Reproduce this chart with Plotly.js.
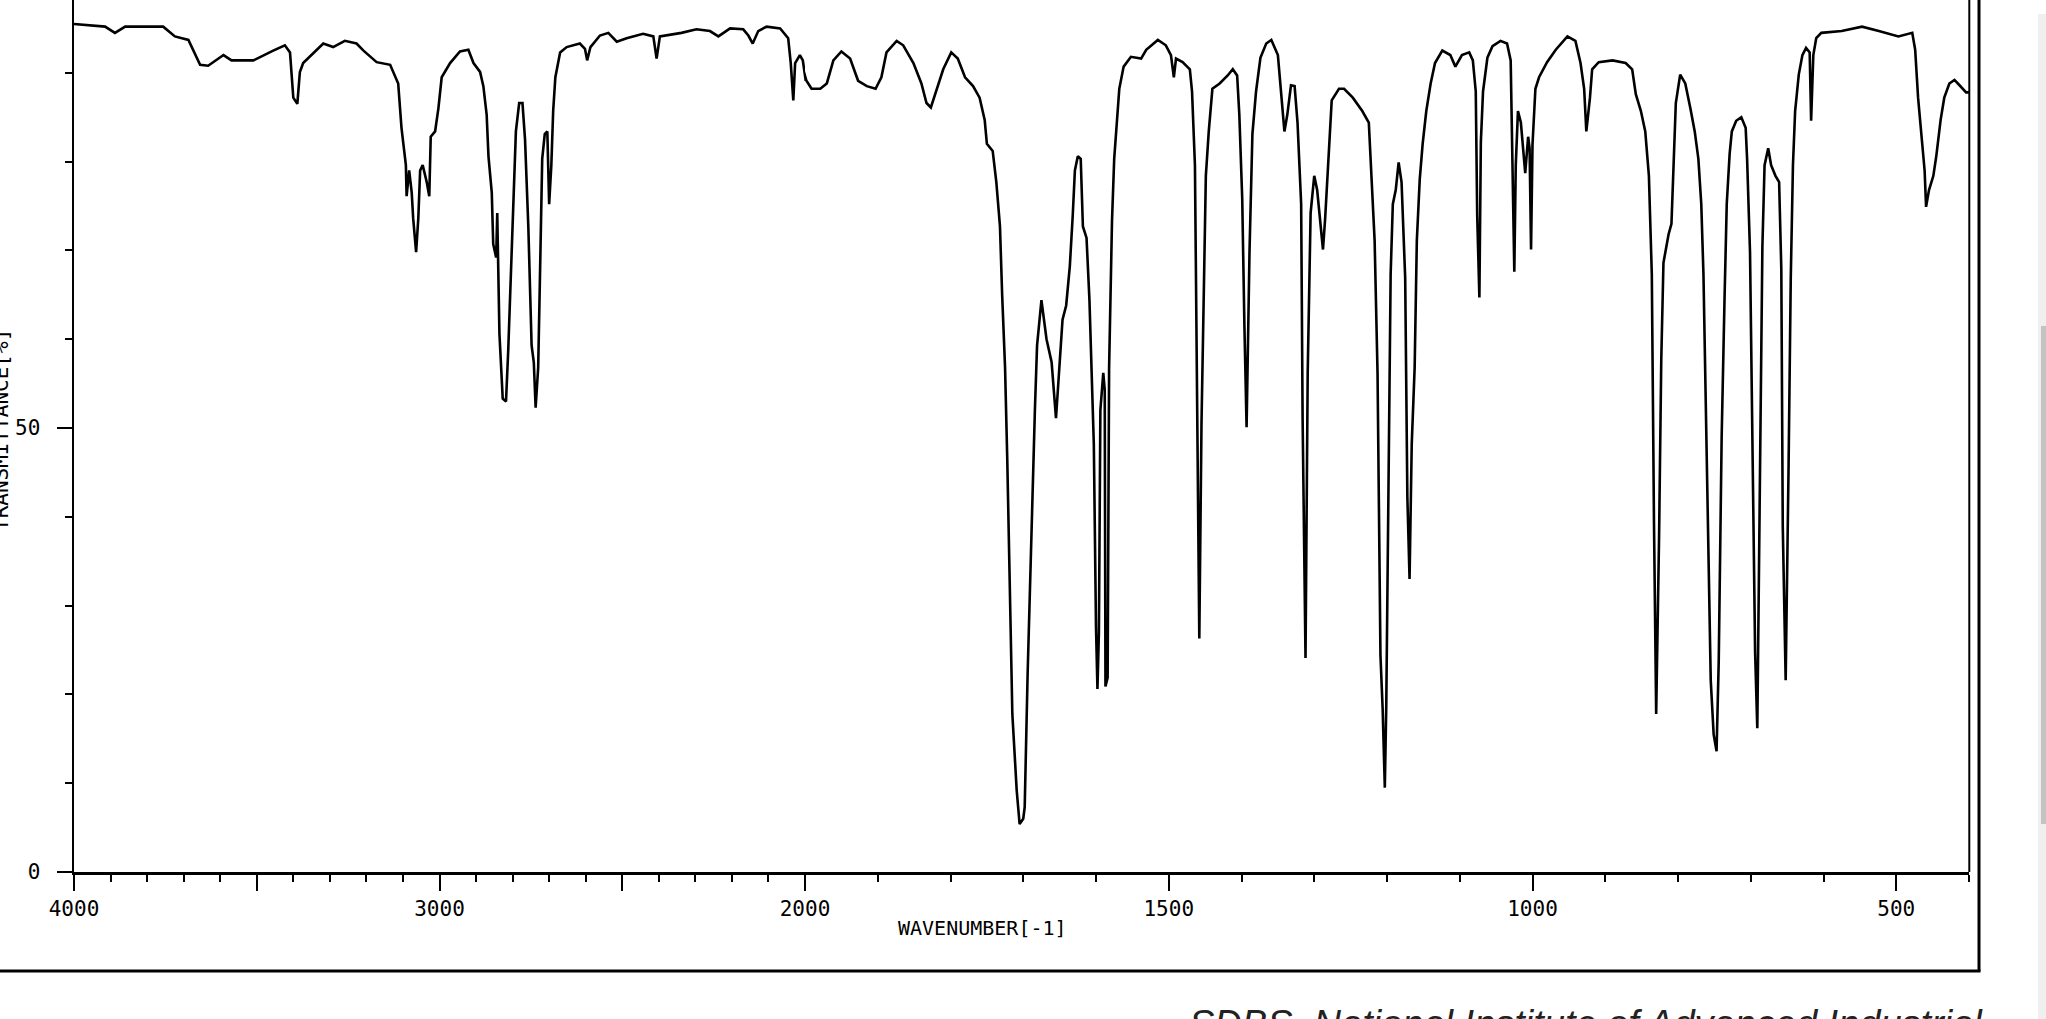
<!DOCTYPE html>
<html>
<head>
<meta charset="utf-8">
<script src="https://cdn.plot.ly/plotly-3.0.1.min.js"></script>
<style>
html,body{margin:0;padding:0;background:#ffffff;overflow:hidden;}
#chart{width:2046px;height:1019px;}
</style>
</head>
<body>
<div id="chart"></div>
<script>
// ---- data ----
const wavenumber = [
4000,3915,3888,3860,3756,3724,3687,3655,3633,3591,3569,3509,3455,3423,3409,3400,3389,3382,3373,3336,
3318,3291,3259,3227,3208,3172,3135,3113,3104,3092,3090,3083,3076,3072,3064,3058,3053,3046,3035,3028,
3024,3012,3003,2994,2971,2944,2921,2907,2889,2880,2871,2866,2857,2853,2845,2842,2836,2827,2818,2812,
2806,2798,2791,2782,2773,2766,2757,2748,2742,2737,2730,2724,2719,2712,2705,2700,2694,2689,2683,2670,
2652,2616,2602,2596,2587,2561,2538,2515,2488,2443,2415,2406,2397,2338,2297,2260,2237,2205,2169,2155,
2143,2128,2105,2068,2046,2039,2032,2027,2014,2006,1998,1991,1979,1970,1961,1950,1938,1927,1915,1903,
1895,1888,1874,1865,1851,1840,1833,1827,1822,1810,1799,1790,1780,1769,1760,1753,1750,1742,1737,1732,
1729,1725,1722,1719,1715,1709,1705,1700,1698,1694,1689,1684,1681,1675,1668,1661,1655,1651,1646,1641,
1636,1632,1629,1625,1621,1618,1613,1609,1606,1603,1600,1598,1596,1594,1590,1588,1587,1584,1582,1578,
1575,1571,1568,1562,1552,1538,1531,1515,1504,1497,1493,1490,1481,1471,1468,1464,1461,1458,1455,1452,
1449,1445,1440,1430,1419,1412,1406,1403,1399,1396,1393,1389,1385,1380,1374,1366,1359,1350,1346,1341,
1337,1332,1327,1323,1318,1316,1312,1309,1305,1300,1296,1291,1288,1285,1281,1276,1266,1259,1247,1234,
1225,1222,1217,1213,1209,1206,1203,1201,1198,1195,1192,1188,1184,1180,1175,1172,1169,1166,1162,1159,
1155,1151,1146,1140,1134,1124,1113,1106,1097,1087,1082,1078,1076,1073,1071,1068,1062,1055,1044,1035,
1030,1028,1025,1023,1020,1016,1012,1010,1006,1004,1002,1000,996,991,980,968,952,941,934,929,
926,921,918,909,890,872,863,858,851,845,840,836,833,830,826,823,820,813,809,806,
803,797,790,783,777,772,768,765,762,758,755,751,747,744,740,736,733,729,726,720,
713,707,705,701,698,694,691,688,684,681,676,672,666,661,658,656,652,648,645,642,
639,634,629,624,619,617,614,610,603,575,547,524,497,478,474,470,465,461,459,455,
449,445,439,434,427,420,413,404,400
];
const transmittance = [
95.5,95.2,94.5,95.2,95.2,94.1,93.7,90.9,90.8,92.0,91.4,91.4,92.5,93.1,92.3,87.2,86.5,90.1,91.1,92.6,
93.3,92.9,93.6,93.3,92.5,91.2,90.9,88.8,83.8,79.6,76.1,79.0,76.5,73.6,69.8,73.6,79.0,79.6,77.7,76.1,
82.8,83.4,86.0,89.5,91.1,92.4,92.6,91.1,90.1,88.5,85.3,80.6,76.5,70.7,69.2,74.2,60.6,53.3,53.0,58.7,
65.7,76.5,83.4,86.6,86.6,82.5,72.7,59.3,57.4,52.3,56.8,69.5,80.3,83.1,83.4,75.2,79.6,85.7,89.5,92.3,
92.9,93.3,92.7,91.4,92.9,94.2,94.5,93.5,93.9,94.4,94.1,91.6,94.1,94.5,94.9,94.7,94.1,95.0,94.9,94.2,
93.3,94.7,95.2,95.0,93.9,91.1,86.9,91.1,92.0,91.4,89.1,88.2,88.2,88.8,91.4,92.4,91.6,89.1,88.5,88.2,
89.5,92.3,93.6,93.1,91.1,88.8,86.6,86.1,87.3,90.4,92.3,91.6,89.5,88.5,87.2,84.7,82.0,81.2,77.7,72.7,
65.0,56.8,46.6,32.7,17.8,9.2,5.4,6.0,7.3,22.3,38.7,52.0,59.3,64.4,60.0,57.4,51.1,56.5,62.2,63.8,
68.2,73.9,79.0,80.6,80.3,72.7,71.4,64.4,56.2,48.2,27.6,20.6,27.0,52.0,56.2,54.3,20.9,21.9,56.8,73.3,
80.3,84.4,88.2,90.7,91.8,91.6,92.6,93.7,93.1,92.0,89.5,91.6,91.2,90.4,87.9,79.6,50.4,26.3,50.4,63.8,
78.4,83.4,88.2,88.8,89.7,90.4,89.7,85.3,75.8,61.5,50.1,69.8,83.1,87.9,91.7,93.3,93.7,92.0,88.5,83.4,
85.3,88.6,88.5,84.4,75.2,51.1,24.1,56.2,74.2,78.4,76.8,73.0,70.1,73.6,79.6,86.9,88.2,88.2,87.2,85.7,
84.4,79.6,71.1,56.2,24.4,18.4,9.5,18.7,44.7,67.3,75.2,76.8,79.9,77.7,66.9,42.2,33.0,48.2,56.8,71.1,
78.0,82.0,85.7,88.8,91.1,92.5,92.0,90.7,92.0,92.3,91.4,87.9,73.9,64.7,82.2,87.9,91.7,93.0,93.6,93.3,
91.4,79.9,67.6,79.6,85.7,84.4,79.9,78.7,82.8,81.5,70.1,81.9,88.2,89.5,91.2,92.6,94.1,93.6,91.1,88.2,
83.4,87.2,90.4,91.2,91.4,91.1,90.4,87.6,85.7,83.4,78.4,67.3,39.3,17.8,37.8,57.7,68.6,71.8,73.0,80.3,
86.6,89.8,88.8,86.0,83.4,80.3,75.2,67.3,53.9,35.5,21.6,15.5,13.6,23.8,48.9,64.7,75.2,80.9,83.4,84.6,
85.0,83.8,80.3,69.8,50.8,24.7,16.2,42.8,70.4,79.6,81.5,79.6,78.4,77.7,67.9,39.0,21.6,45.7,66.9,79.6,
85.7,89.8,92.0,92.8,92.3,84.6,92.0,93.9,94.5,94.7,95.2,94.7,94.1,94.5,92.6,87.2,82.8,79.0,74.9,76.8,
78.4,80.6,84.7,87.2,88.8,89.2,88.6,87.8,87.8
];
const highTickVals = [4000,3500,3000,2500,2000];
const highTickText = ['4000','','3000','','2000'];
const lowTickVals = [1500,1000,500];
const lowTickText = ['1500','1000','500'];
const yTickVals = [0,50];
const yTickText = ['0','50'];
const xTitle = 'WAVENUMBER[-1]';
const yTitle = 'TRANSMITTANCE[%]';
const caption = 'SDBS, National Institute of Advanced Industrial';

// ---- split into the two scale sections (4000-2000 and 2000-400) ----
const hiX=[],hiY=[],loX=[],loY=[];
let firstLow=-1,lastHigh=-1;
wavenumber.forEach((w,i)=>{ if(w>=2000){hiX.push(w);hiY.push(transmittance[i]);lastHigh=i;} });
wavenumber.forEach((w,i)=>{ if(w<2000 && firstLow<0) firstLow=i; });
hiX.push(wavenumber[firstLow]); hiY.push(transmittance[firstLow]);
loX.push(wavenumber[lastHigh]); loY.push(transmittance[lastHigh]);
wavenumber.forEach((w,i)=>{ if(w<=2000){loX.push(w);loY.push(transmittance[i]);} });

const W=2046,H=1019;
const px=v=>v/W, py=v=>1-v/H;
const tickFont={family:'DejaVu Sans Mono, monospace',size:21,color:'#000'};
const lineStyle={color:'#000',width:2.6};

const traces=[
 {x:hiX,y:hiY,type:'scatter',mode:'lines',line:lineStyle,xaxis:'x',yaxis:'y',hoverinfo:'skip'},
 {x:loX,y:loY,type:'scatter',mode:'lines',line:lineStyle,xaxis:'x2',yaxis:'y',hoverinfo:'skip'}
];

const minorX={tickmode:'linear',tick0:0,dtick:100,ticks:'outside',ticklen:7,tickwidth:2,tickcolor:'#000',showgrid:false};
const baseX={showline:true,linewidth:2.5,linecolor:'#000',ticks:'outside',ticklen:16,tickwidth:2,tickcolor:'#000',
  tickmode:'array',showgrid:false,zeroline:false,tickfont:tickFont,fixedrange:true,anchor:'y',minor:minorX};

const layout={
 width:W,height:H,margin:{l:0,r:0,t:0,b:0},
 paper_bgcolor:'#ffffff',plot_bgcolor:'rgba(0,0,0,0)',showlegend:false,
 xaxis:Object.assign({},baseX,{domain:[px(74),px(805)],range:[4000,2000],tickvals:highTickVals,ticktext:highTickText}),
 xaxis2:Object.assign({},baseX,{domain:[px(805),px(1969)],range:[2000,400],tickvals:lowTickVals,ticktext:lowTickText}),
 yaxis:{domain:[py(872),1],range:[0,98.2],anchor:'x',showline:true,linewidth:2.5,linecolor:'#000',
   ticks:'outside',ticklen:15,tickwidth:2,tickcolor:'#000',tickmode:'array',tickvals:yTickVals,ticktext:yTickText,
   ticklabelstandoff:12,
   minor:{tickmode:'linear',tick0:0,dtick:10,ticks:'outside',ticklen:7,tickwidth:2,tickcolor:'#000',showgrid:false},
   showgrid:false,zeroline:false,tickfont:tickFont,fixedrange:true},
 shapes:[
  {type:'line',xref:'paper',yref:'paper',x0:px(1969.3),x1:px(1969.3),y0:py(872),y1:1,line:{color:'#000',width:2}},
  {type:'line',xref:'paper',yref:'paper',x0:px(1979),x1:px(1979),y0:py(971),y1:1,line:{color:'#000',width:3}},
  {type:'line',xref:'paper',yref:'paper',x0:-0.01,x1:px(1980.5),y0:py(971),y1:py(971),line:{color:'#000',width:3}},
  {type:'rect',xref:'paper',yref:'paper',x0:px(2038),x1:1.01,y0:-0.01,y1:py(14),fillcolor:'#efefef',line:{width:0}},
  {type:'rect',xref:'paper',yref:'paper',x0:px(2041),x1:1.01,y0:py(824),y1:py(326),fillcolor:'#c3c3c3',line:{width:0}}
 ],
 annotations:[
  {text:xTitle,xref:'paper',yref:'paper',x:px(982),y:py(927.5),xanchor:'center',yanchor:'middle',showarrow:false,
   font:{family:'DejaVu Sans Mono, monospace',size:20,color:'#000'}},
  {text:yTitle,xref:'paper',yref:'paper',x:px(1),y:py(430),xanchor:'center',yanchor:'middle',showarrow:false,textangle:-90,
   font:{family:'DejaVu Sans Mono, monospace',size:21,color:'#000'}},
  {text:'<i>'+caption+'</i>',xref:'paper',yref:'paper',x:px(1187),y:py(1024),xanchor:'left',yanchor:'middle',showarrow:false,
   font:{family:'Liberation Sans, Arial, sans-serif',size:38,color:'#222'}}
 ]
};
Plotly.newPlot('chart',traces,layout,{staticPlot:true,displayModeBar:false});
</script>
</body>
</html>
